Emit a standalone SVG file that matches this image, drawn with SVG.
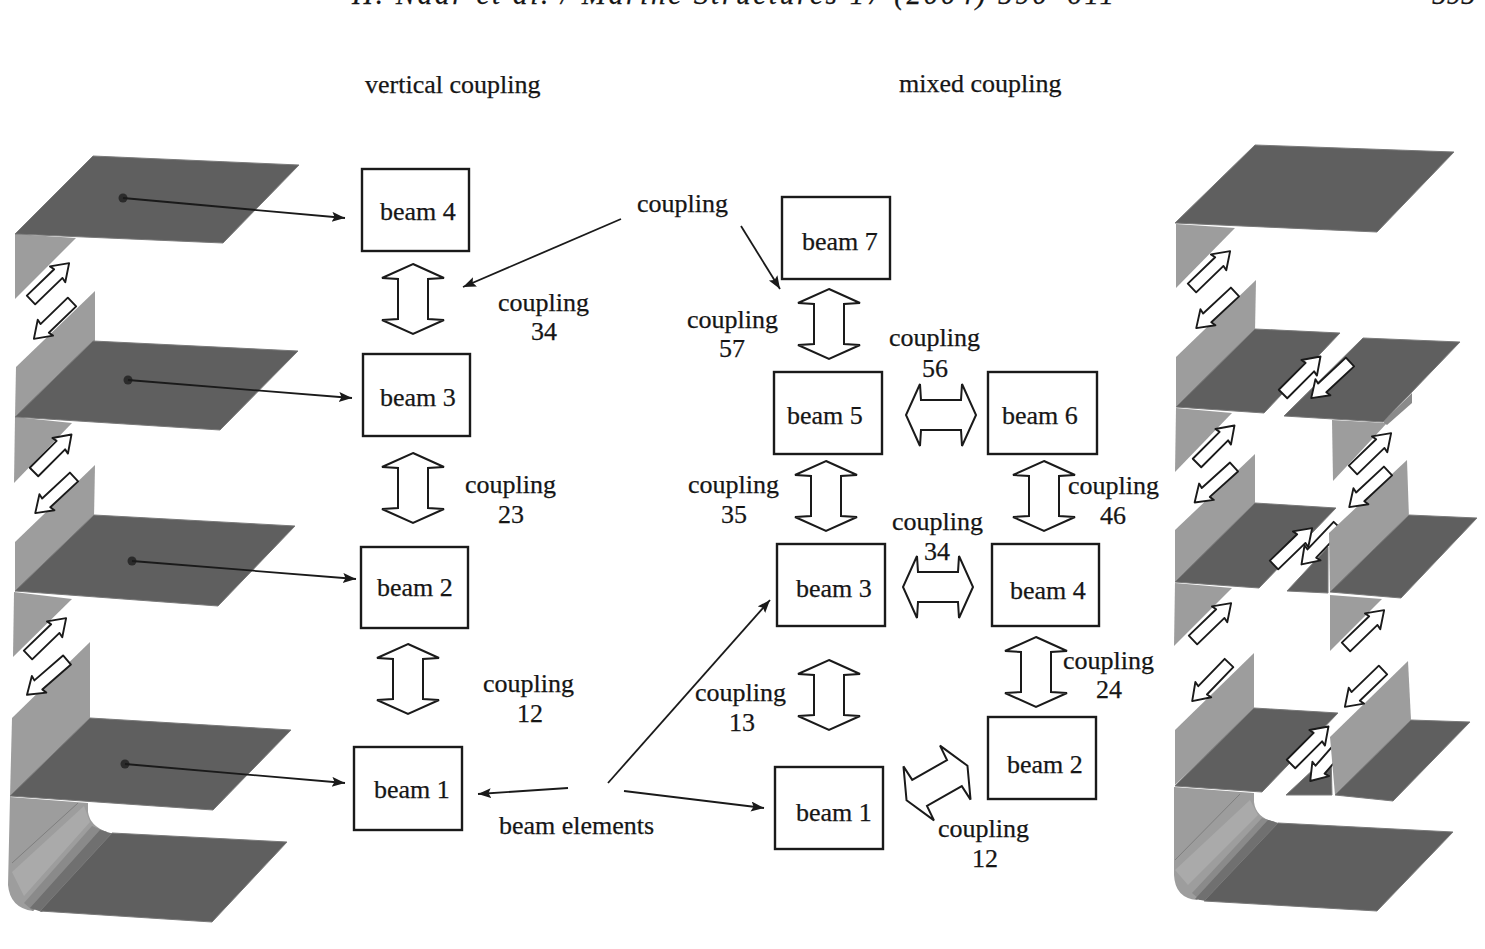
<svg xmlns="http://www.w3.org/2000/svg" xmlns:xlink="http://www.w3.org/1999/xlink" width="1485" height="949" viewBox="0 0 1485 949">
<style>
text{font-family:"Liberation Serif","Times New Roman",serif;font-size:26px;fill:#161616;stroke:#161616;stroke-width:.25}
.m{text-anchor:middle}
.hdr{font-style:italic;font-size:29px}
.d{fill:#5f5f5f;stroke:#7a7a7a;stroke-width:1}
.w{fill:#9d9d9d}
.w2{fill:#aaaaaa}
.s{fill:#8a8a8a}
.s2{fill:#6f6f6f}
.tl{stroke:#7f7f7f;stroke-width:1;fill:none}
.box{fill:#fff;stroke:#1a1a1a;stroke-width:2.4}
.da{fill:#fff;stroke:#1a1a1a;stroke-width:2;stroke-linejoin:miter}
.sa{fill:#fff;stroke:#1a1a1a;stroke-width:1.9;stroke-linejoin:round}
.ln{fill:none;stroke:#1a1a1a;stroke-width:1.8;marker-end:url(#ah)}
.dot{fill:#2b2b2b}
</style>
<defs>
<marker id="ah" markerUnits="userSpaceOnUse" markerWidth="16" markerHeight="12" refX="13" refY="5" orient="auto"><path d="M0 0L13 5L0 10L2.5 5Z" fill="#1a1a1a"/></marker>
<polygon id="sa" class="sa" points="0,-6 38,-6 37,-11 53,0 37,11 38,6 0,6"/>
<polygon id="da" class="da" points="0,-35 31,-21 15,-20 15,20 31,21 0,35 -31,21 -15,20 -15,-20 -31,-21"/>
<filter id="soft" x="-2%" y="-2%" width="104%" height="104%"><feGaussianBlur stdDeviation="0.5"/></filter>
</defs>
<rect width="1485" height="949" fill="#fff"/>

<g id="header">
<text class="hdr" x="352" y="4" textLength="762" lengthAdjust="spacing">H. Naar et al. / Marine Structures 17 (2004) 590–611</text>
<text class="hdr" x="1432" y="4">595</text>
</g>
<g id="titles">
<text x="365" y="93">vertical coupling</text>
<text x="899" y="92">mixed coupling</text>
</g>

<g id="structure-vertical" filter="url(#soft)">
<polygon class="w" points="15,234 76,238 15,299"/>
<polygon class="d" points="93,156 299,165 223,243 15,234"/>
<polygon class="w" points="95,291 95,345 15,417 16,367"/>
<polygon class="w" points="15,417 72,423 14,483"/>
<polygon class="d" points="93,341 298,351 220,430 15,417"/>
<polygon class="w" points="95,465 94,518 15,592 15,542"/>
<polygon class="w" points="14,592 72,599 13,657"/>
<polygon class="d" points="94,515 295,526 218,606 15,591"/>
<polygon class="w" points="90,642 90,720 10,797 12,718"/>
<path class="w" d="M10 797L88 803L88 812Q90 826 107 832L33 911Q10 908 8 885Z"/>
<polygon class="w2" points="12,872 84,806 90,822 24,896"/>
<line class="tl" x1="12" y1="863" x2="78" y2="803"/>
<polygon class="s" points="92,826 107,832 33,911 24,903"/>
<polygon class="s2" points="100,830 114,834 42,912 30,908"/>
<polygon class="d" points="90,718 291,730 213,810 10,796"/>
<polygon class="d" points="112,833 287,842 212,922 40,911"/>
</g>
<g id="structure-mixed" filter="url(#soft)">
<polygon class="w" points="1176,224 1235,228 1176,288"/>
<polygon class="d" points="1255,145 1454,152 1377,232 1175,223"/>
<polygon class="w" points="1256,280 1255,331 1176,407 1176,357"/>
<polygon class="w" points="1176,408 1232,413 1175,472"/>
<polygon class="d" points="1255,329 1340,333 1264,413 1176,407"/>
<polygon class="w" points="1332,420 1387,423 1333,481"/>
<polygon class="s" points="1383,422 1412,393 1412,403 1387,425"/>
<polygon class="d" points="1363,338 1460,342 1383,422 1284,416"/>
<polygon class="w" points="1255,454 1255,505 1175,582 1175,530"/>
<polygon class="d" points="1255,503 1336,508 1259,588 1175,582"/>
<polygon class="w" points="1175,583 1232,588 1174,646"/>
<polygon class="w" points="1330,595 1382,599 1330,651"/>
<polygon class="d" points="1328,547 1328,593 1287,591"/>
<use xlink:href="#sa" href="#sa" transform="translate(1338,526) rotate(133.5)"/>
<polygon class="w" points="1407,460 1409,518 1330,592 1329,533"/>
<polygon class="d" points="1409,515 1477,518 1401,598 1330,592"/>
<polygon class="w" points="1254,653 1254,710 1175,785 1175,730"/>
<path class="w" d="M1174 787L1254 793L1254 802Q1256 818 1275 822L1197 900Q1175 898 1174 875Z"/>
<polygon class="w2" points="1175,870 1250,800 1258,815 1188,885"/>
<line class="tl" x1="1175" y1="860" x2="1240" y2="794"/>
<polygon class="s" points="1262,818 1275,822 1200,900 1192,893"/>
<polygon class="s2" points="1268,820 1282,824 1206,901 1195,899"/>
<polygon class="d" points="1254,708 1338,713 1262,792 1175,786"/>
<polygon class="d" points="1331,753 1332,795 1286,795"/>
<use xlink:href="#sa" href="#sa" transform="translate(1345,741) rotate(131)"/>
<polygon class="w" points="1408,661 1411,720 1335,795 1330,737"/>
<polygon class="d" points="1411,720 1470,722 1393,801 1335,795"/>
<polygon class="d" points="1278,823 1453,832 1377,911 1204,901"/>
</g>
<g id="connectors">
<g id="structure-arrows">
<use xlink:href="#sa" href="#sa" transform="translate(31,300) rotate(-44)"/>
<use xlink:href="#sa" href="#sa" transform="translate(72,302) rotate(136)"/>
<use xlink:href="#sa" href="#sa" transform="translate(34,472) rotate(-45)"/>
<use xlink:href="#sa" href="#sa" transform="translate(74,477) rotate(137)"/>
<use xlink:href="#sa" href="#sa" transform="translate(28,655) rotate(-44)"/>
<use xlink:href="#sa" href="#sa" transform="translate(67,660) rotate(139)"/>
<use xlink:href="#sa" href="#sa" transform="translate(1192,288) rotate(-44)"/>
<use xlink:href="#sa" href="#sa" transform="translate(1235,292) rotate(137)"/>
<use xlink:href="#sa" href="#sa" transform="translate(1283,394) rotate(-45)"/>
<use xlink:href="#sa" href="#sa" transform="translate(1350,362) rotate(137)"/>
<use xlink:href="#sa" href="#sa" transform="translate(1197,463) rotate(-45)"/>
<use xlink:href="#sa" href="#sa" transform="translate(1234,467) rotate(138)"/>
<use xlink:href="#sa" href="#sa" transform="translate(1353,470) rotate(-44)"/>
<use xlink:href="#sa" href="#sa" transform="translate(1388,471) rotate(137)"/>
<use xlink:href="#sa" href="#sa" transform="translate(1274,565) rotate(-44)"/>
<use xlink:href="#sa" href="#sa" transform="translate(1193,640) rotate(-44)"/>
<use xlink:href="#sa" href="#sa" transform="translate(1346,647) rotate(-44)"/>
<use xlink:href="#sa" href="#sa" transform="translate(1229,663) rotate(134)"/>
<use xlink:href="#sa" href="#sa" transform="translate(1383,670) rotate(136)"/>
<use xlink:href="#sa" href="#sa" transform="translate(1291,764) rotate(-45)"/>
</g>
<g id="leaders">
<circle class="dot" cx="123" cy="198" r="4.5"/>
<circle class="dot" cx="128" cy="380" r="4.5"/>
<circle class="dot" cx="132" cy="561" r="4.5"/>
<circle class="dot" cx="125" cy="764" r="4.5"/>
<line class="ln" x1="123" y1="198" x2="345" y2="218"/>
<line class="ln" x1="128" y1="380" x2="352" y2="398"/>
<line class="ln" x1="132" y1="561" x2="356" y2="579"/>
<line class="ln" x1="125" y1="764" x2="345" y2="783"/>
<line class="ln" x1="621" y1="219" x2="463" y2="287"/>
<line class="ln" x1="741" y1="226" x2="780" y2="289"/>
<line class="ln" x1="568" y1="788" x2="478" y2="794"/>
<line class="ln" x1="608" y1="783" x2="770" y2="600"/>
<line class="ln" x1="624" y1="791" x2="764" y2="808"/>
</g>
<g id="double-arrows">
<use xlink:href="#da" href="#da" transform="translate(413,299)"/>
<use xlink:href="#da" href="#da" transform="translate(413,488)"/>
<use xlink:href="#da" href="#da" transform="translate(408,679)"/>
<use xlink:href="#da" href="#da" transform="translate(829,324)"/>
<use xlink:href="#da" href="#da" transform="translate(826,496)"/>
<use xlink:href="#da" href="#da" transform="translate(1044,496)"/>
<use xlink:href="#da" href="#da" transform="translate(1036,672)"/>
<use xlink:href="#da" href="#da" transform="translate(829,695)"/>
<use xlink:href="#da" href="#da" transform="translate(941,415) rotate(90)"/>
<use xlink:href="#da" href="#da" transform="translate(938,587) rotate(90)"/>
<use xlink:href="#da" href="#da" transform="translate(937,783) rotate(60.5)"/>
</g>
</g>

<g id="beam4-v"><rect class="box" x="362" y="169" width="107" height="82"/><text x="380" y="220">beam 4</text></g>
<g id="beam3-v"><rect class="box" x="363" y="354" width="107" height="82"/><text x="380" y="406">beam 3</text></g>
<g id="beam2-v"><rect class="box" x="361" y="547" width="107" height="81"/><text x="377" y="596">beam 2</text></g>
<g id="beam1-v"><rect class="box" x="354" y="747" width="108" height="83"/><text x="374" y="798">beam 1</text></g>
<g id="beam7-m"><rect class="box" x="782" y="197" width="108" height="82"/><text x="802" y="250">beam 7</text></g>
<g id="beam5-m"><rect class="box" x="774" y="372" width="108" height="82"/><text x="787" y="424">beam 5</text></g>
<g id="beam6-m"><rect class="box" x="988" y="372" width="109" height="82"/><text x="1002" y="424">beam 6</text></g>
<g id="beam3-m"><rect class="box" x="777" y="544" width="108" height="82"/><text x="796" y="597">beam 3</text></g>
<g id="beam4-m"><rect class="box" x="992" y="544" width="107" height="82"/><text x="1010" y="599">beam 4</text></g>
<g id="beam2-m"><rect class="box" x="988" y="717" width="108" height="82"/><text x="1007" y="773">beam 2</text></g>
<g id="beam1-m"><rect class="box" x="775" y="767" width="108" height="82"/><text x="796" y="821">beam 1</text></g>

<g id="labels">
<text x="637" y="212">coupling</text>
<text x="499" y="834">beam elements</text>
<text x="498" y="311">coupling</text><text class="m" x="544" y="340">34</text>
<text x="465" y="493">coupling</text><text class="m" x="511" y="523">23</text>
<text x="483" y="692">coupling</text><text class="m" x="530" y="722">12</text>
<text x="687" y="328">coupling</text><text class="m" x="732" y="357">57</text>
<text x="889" y="346">coupling</text><text class="m" x="935" y="377">56</text>
<text x="688" y="493">coupling</text><text class="m" x="734" y="523">35</text>
<text x="1068" y="494">coupling</text><text class="m" x="1113" y="524">46</text>
<text x="892" y="530">coupling</text><text class="m" x="937" y="560">34</text>
<text x="695" y="701">coupling</text><text class="m" x="742" y="731">13</text>
<text x="1063" y="669">coupling</text><text class="m" x="1109" y="698">24</text>
<text x="938" y="837">coupling</text><text class="m" x="985" y="867">12</text>
</g>
</svg>
